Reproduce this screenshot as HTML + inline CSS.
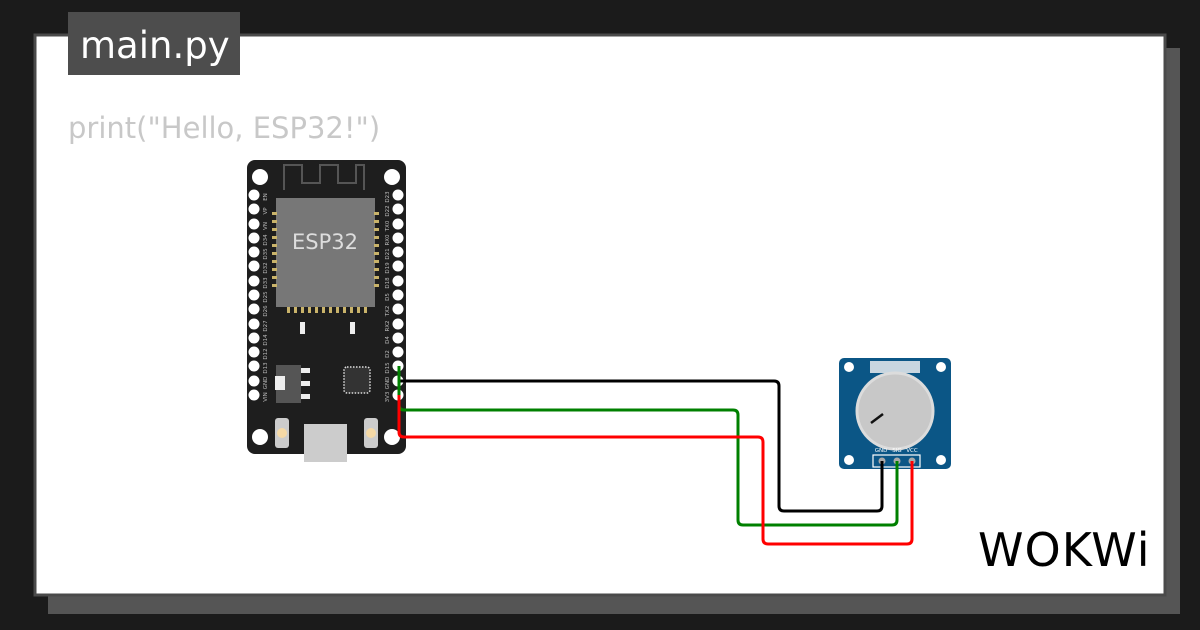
<!DOCTYPE html>
<html><head><style>
body{margin:0;width:1200px;height:630px;background:#1b1b1b;overflow:hidden;font-family:"Liberation Sans",sans-serif}
</style></head><body>
<svg width="1200" height="630" xmlns="http://www.w3.org/2000/svg" style="position:absolute;left:0;top:0">
<rect x="48" y="48" width="1132" height="566" fill="#555"/>
<rect x="35" y="35" width="1130" height="560" fill="#fff" stroke="#4a4a4a" stroke-width="3"/>
<rect x="68" y="12" width="172" height="63" fill="#4d4d4d"/>
<text x="80" y="58" font-size="37" fill="#fff" font-family="DejaVu Sans, sans-serif">main.py</text>
<text x="68" y="138" font-size="29" fill="#c8c8c8" font-family="DejaVu Sans, sans-serif">print("Hello, ESP32!")</text>
<!-- ESP32 -->
<rect x="247" y="160" width="159" height="294" rx="8" fill="#1e1e1e"/>
<path d="M284 190 V165 H302 V183 H320 V165 H338 V183 H356 V165 H364 V190" fill="none" stroke="#555" stroke-width="2"/>
<rect x="276" y="198" width="99" height="109" fill="#777"/>
<text x="325" y="249" font-size="21" fill="#ddd" text-anchor="middle" font-family="DejaVu Sans, sans-serif">ESP32</text>
<g fill="#c9b36a">
<rect x="272" y="212" width="5" height="3"/><rect x="272" y="220" width="5" height="3"/><rect x="272" y="228" width="5" height="3"/><rect x="272" y="236" width="5" height="3"/><rect x="272" y="244" width="5" height="3"/><rect x="272" y="252" width="5" height="3"/><rect x="272" y="260" width="5" height="3"/><rect x="272" y="268" width="5" height="3"/><rect x="272" y="276" width="5" height="3"/><rect x="272" y="284" width="5" height="3"/>
<rect x="374" y="212" width="5" height="3"/><rect x="374" y="220" width="5" height="3"/><rect x="374" y="228" width="5" height="3"/><rect x="374" y="236" width="5" height="3"/><rect x="374" y="244" width="5" height="3"/><rect x="374" y="252" width="5" height="3"/><rect x="374" y="260" width="5" height="3"/><rect x="374" y="268" width="5" height="3"/><rect x="374" y="276" width="5" height="3"/><rect x="374" y="284" width="5" height="3"/>
<rect x="287" y="307" width="3" height="6"/><rect x="294" y="307" width="3" height="6"/><rect x="301" y="307" width="3" height="6"/><rect x="308" y="307" width="3" height="6"/><rect x="315" y="307" width="3" height="6"/><rect x="322" y="307" width="3" height="6"/><rect x="329" y="307" width="3" height="6"/><rect x="336" y="307" width="3" height="6"/><rect x="343" y="307" width="3" height="6"/><rect x="350" y="307" width="3" height="6"/><rect x="357" y="307" width="3" height="6"/><rect x="364" y="307" width="3" height="6"/>
</g>
<rect x="300" y="322" width="5" height="12" fill="#eee"/><rect x="350" y="322" width="5" height="12" fill="#eee"/>
<rect x="276" y="365" width="25" height="38" fill="#555"/><rect x="275" y="376" width="10" height="14" fill="#eee"/>
<rect x="301" y="368" width="9" height="5" fill="#eee"/><rect x="301" y="381" width="9" height="5" fill="#eee"/><rect x="301" y="394" width="9" height="5" fill="#eee"/>
<rect x="344" y="367" width="26" height="26" rx="3" fill="#333" stroke="#ddd" stroke-width="1.5" stroke-dasharray="1.5 1.5"/>
<rect x="304" y="424" width="43" height="38" fill="#ccc"/>
<rect x="275" y="418" width="14" height="30" rx="3" fill="#ccc"/><circle cx="282" cy="433" r="5" fill="#f5d9a6"/>
<rect x="364" y="418" width="14" height="30" rx="3" fill="#ccc"/><circle cx="371" cy="433" r="5" fill="#f5d9a6"/>
<g fill="#fff">
<circle cx="260" cy="177" r="8"/><circle cx="392" cy="177" r="8"/><circle cx="260" cy="437" r="8"/><circle cx="392" cy="437" r="8"/>
</g>
<g fill="#fff">
<circle cx="254" cy="195" r="5.5"/><circle cx="254" cy="209" r="5.5"/><circle cx="254" cy="224" r="5.5"/><circle cx="254" cy="238" r="5.5"/><circle cx="254" cy="252" r="5.5"/><circle cx="254" cy="266" r="5.5"/><circle cx="254" cy="281" r="5.5"/><circle cx="254" cy="295" r="5.5"/><circle cx="254" cy="309" r="5.5"/><circle cx="254" cy="324" r="5.5"/><circle cx="254" cy="338" r="5.5"/><circle cx="254" cy="352" r="5.5"/><circle cx="254" cy="366" r="5.5"/><circle cx="254" cy="381" r="5.5"/><circle cx="254" cy="395" r="5.5"/>
<circle cx="398" cy="195" r="5.5"/><circle cx="398" cy="209" r="5.5"/><circle cx="398" cy="224" r="5.5"/><circle cx="398" cy="238" r="5.5"/><circle cx="398" cy="252" r="5.5"/><circle cx="398" cy="266" r="5.5"/><circle cx="398" cy="281" r="5.5"/><circle cx="398" cy="295" r="5.5"/><circle cx="398" cy="309" r="5.5"/><circle cx="398" cy="324" r="5.5"/><circle cx="398" cy="338" r="5.5"/><circle cx="398" cy="352" r="5.5"/><circle cx="398" cy="366" r="5.5"/><circle cx="398" cy="381" r="5.5"/><circle cx="398" cy="395" r="5.5"/>
</g>
<g fill="#bbb" font-size="5.5" font-family="DejaVu Sans, sans-serif">
<text transform="translate(267,197) rotate(-90)" text-anchor="middle">EN</text><text transform="translate(267,211) rotate(-90)" text-anchor="middle">VP</text><text transform="translate(267,226) rotate(-90)" text-anchor="middle">VN</text><text transform="translate(267,240) rotate(-90)" text-anchor="middle">D34</text><text transform="translate(267,254) rotate(-90)" text-anchor="middle">D35</text><text transform="translate(267,268) rotate(-90)" text-anchor="middle">D32</text><text transform="translate(267,283) rotate(-90)" text-anchor="middle">D33</text><text transform="translate(267,297) rotate(-90)" text-anchor="middle">D25</text><text transform="translate(267,311) rotate(-90)" text-anchor="middle">D26</text><text transform="translate(267,326) rotate(-90)" text-anchor="middle">D27</text><text transform="translate(267,340) rotate(-90)" text-anchor="middle">D14</text><text transform="translate(267,354) rotate(-90)" text-anchor="middle">D12</text><text transform="translate(267,368) rotate(-90)" text-anchor="middle">D13</text><text transform="translate(267,383) rotate(-90)" text-anchor="middle">GND</text><text transform="translate(267,397) rotate(-90)" text-anchor="middle">VIN</text>
<text transform="translate(389,197) rotate(-90)" text-anchor="middle">D23</text><text transform="translate(389,211) rotate(-90)" text-anchor="middle">D22</text><text transform="translate(389,226) rotate(-90)" text-anchor="middle">TX0</text><text transform="translate(389,240) rotate(-90)" text-anchor="middle">RX0</text><text transform="translate(389,254) rotate(-90)" text-anchor="middle">D21</text><text transform="translate(389,268) rotate(-90)" text-anchor="middle">D19</text><text transform="translate(389,283) rotate(-90)" text-anchor="middle">D18</text><text transform="translate(389,297) rotate(-90)" text-anchor="middle">D5</text><text transform="translate(389,311) rotate(-90)" text-anchor="middle">TX2</text><text transform="translate(389,326) rotate(-90)" text-anchor="middle">RX2</text><text transform="translate(389,340) rotate(-90)" text-anchor="middle">D4</text><text transform="translate(389,354) rotate(-90)" text-anchor="middle">D2</text><text transform="translate(389,368) rotate(-90)" text-anchor="middle">D15</text><text transform="translate(389,383) rotate(-90)" text-anchor="middle">GND</text><text transform="translate(389,397) rotate(-90)" text-anchor="middle">3V3</text>
</g>
<!-- Pot -->
<rect x="839" y="358" width="112" height="111" rx="5" fill="#0b5686"/>
<rect x="870" y="361" width="50" height="12" fill="#c8d6e0"/>
<circle cx="895" cy="411" r="38" fill="#c8c8c8" stroke="#dcdcdc" stroke-width="3"/>
<line x1="871" y1="423" x2="883" y2="414" stroke="#111" stroke-width="2.5"/>
<g fill="#fff"><circle cx="849" cy="367" r="5"/><circle cx="941" cy="367" r="5"/><circle cx="849" cy="460" r="5"/><circle cx="941" cy="460" r="5"/></g>
<g fill="#fff" font-size="5.5" text-anchor="middle" font-family="DejaVu Sans, sans-serif"><text x="881" y="452">GND</text><text x="897" y="452">SIG</text><text x="912" y="452">VCC</text></g>
<rect x="873" y="455" width="47" height="12" fill="none" stroke="#fff" stroke-width="1.2"/>
<g fill="#aaa"><circle cx="882" cy="461" r="3.5"/><circle cx="897" cy="461" r="3.5"/><circle cx="912" cy="461" r="3.5"/></g>
<!-- wires -->
<g fill="none" stroke-width="3" stroke-linejoin="round">
<path d="M399 381 H774 Q779 381 779 386 V506 Q779 511 784 511 H877 Q882 511 882 506 V461" stroke="#000"/>
<path d="M399 366 V405 Q399 410 404 410 H733 Q738 410 738 415 V520 Q738 525 743 525 H892 Q897 525 897 520 V461" stroke="#008000"/>
<path d="M399 395 V432 Q399 437 404 437 H758 Q763 437 763 442 V539 Q763 544 768 544 H907 Q912 544 912 539 V461" stroke="#f00"/>
</g>
<text x="978" y="566" font-size="46" fill="#000" font-family="DejaVu Sans, sans-serif" letter-spacing="1">WOKWi</text>
</svg>
</body></html>
